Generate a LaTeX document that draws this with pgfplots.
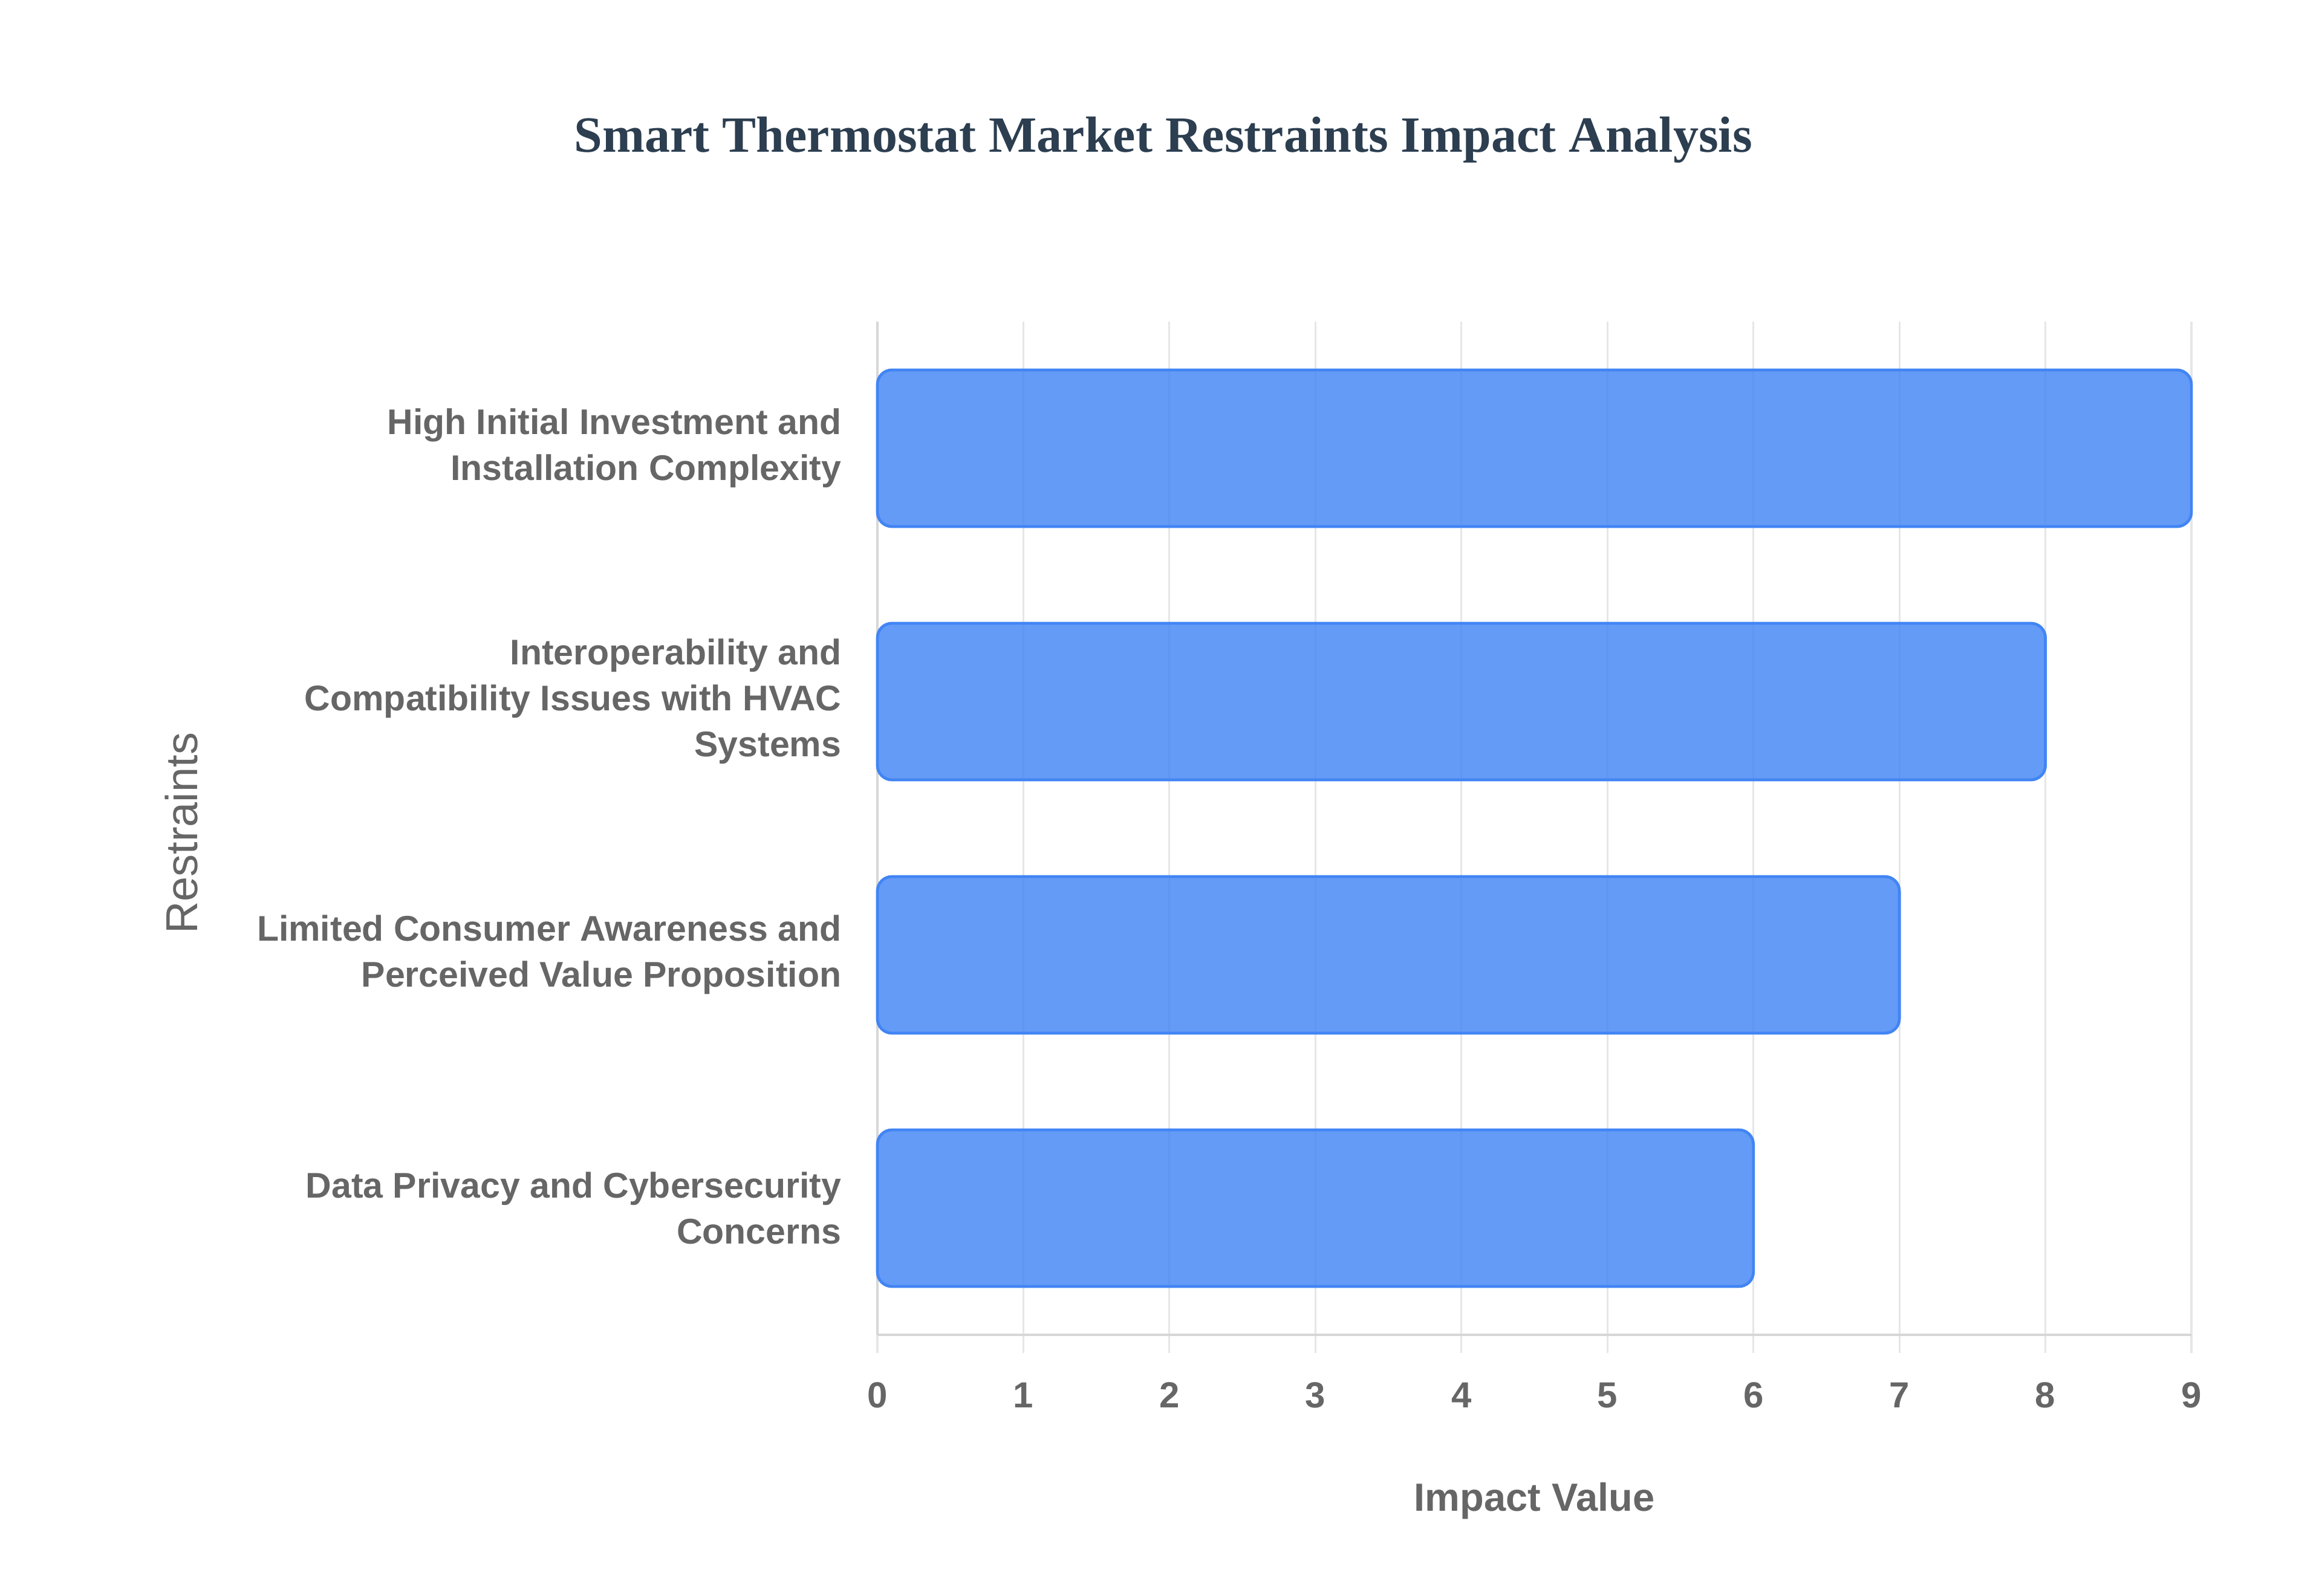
\documentclass[border=0pt]{standalone}
\usepackage{pgfplots}
\pgfplotsset{compat=1.18}
\usepackage{fontspec}
\setmainfont{Liberation Serif}
\newfontfamily\lsans{Liberation Sans}
\definecolor{barblue}{RGB}{66,133,244}
\definecolor{labgray}{RGB}{102,102,102}
\definecolor{titleblue}{RGB}{44,62,80}
\definecolor{gridgray}{RGB}{230,230,230}
\definecolor{axisgray}{RGB}{215,215,215}

\begin{document}
\begin{tikzpicture}
\useasboundingbox (0,0) rectangle (960pt,660pt);
\begin{axis}[
    at={(362.75pt,108pt)}, anchor=south west,
    scale only axis,
    width=543.25pt, height=419pt,
    xmin=0, xmax=9, ymin=-0.5, ymax=3.5,
    enlargelimits=false,
    clip=false,
    axis x line*=bottom, axis y line*=left,
    x axis line style={axisgray, line width=1.2pt},
    y axis line style={axisgray, line width=0.8pt},
    xmajorgrids,
    grid style={gridgray, line width=0.8pt},
    xtick={0,1,...,9},
    ytick={0,1,2,3},
    yticklabels={
        {Data Privacy and Cybersecurity\\Concerns},
        {Limited Consumer Awareness and\\Perceived Value Proposition},
        {Interoperability and\\Compatibility Issues with HVAC\\Systems},
        {High Initial Investment and\\Installation Complexity}},
    tick align=outside,
    x tick style={gridgray, line width=0.8pt},
    major tick length=7.5pt,
    y tick style={draw=none},
    /pgf/number format/assume math mode=true,
    xticklabel style={font=\lsans\bfseries\fontsize{15}{18}\selectfont, text=labgray, anchor=center, inner sep=0pt, yshift=-17.5pt},
    yticklabel style={font=\lsans\bfseries\fontsize{14.75}{19}\selectfont, text=labgray, align=right, anchor=east, inner sep=0pt, xshift=-7.25pt},
    xlabel={Impact Value},
    xlabel style={font=\lsans\bfseries\fontsize{16.25}{19}\selectfont, text=labgray, at={(axis description cs:0.5,0)}, anchor=center, yshift=-68.75pt},
    ylabel={Restraints},
    ylabel style={font=\lsans\fontsize{18.5}{22}\selectfont, text=labgray, at={(axis description cs:-0.5297,0.495)}, anchor=center, rotate=0},
    title={Smart Thermostat Market Restraints Impact Analysis},
    title style={font=\bfseries\fontsize{21}{25}\selectfont, text=titleblue, at={(axis description cs:0.2176,1.1650)}, anchor=center},
]
\addplot[xbar, bar width=64.75pt, fill=barblue, fill opacity=0.82, draw=barblue, line width=1.2pt, rounded corners=6pt]
    coordinates {(6,0) (7,1) (8,2) (9,3)};
\end{axis}
\end{tikzpicture}
\end{document}
